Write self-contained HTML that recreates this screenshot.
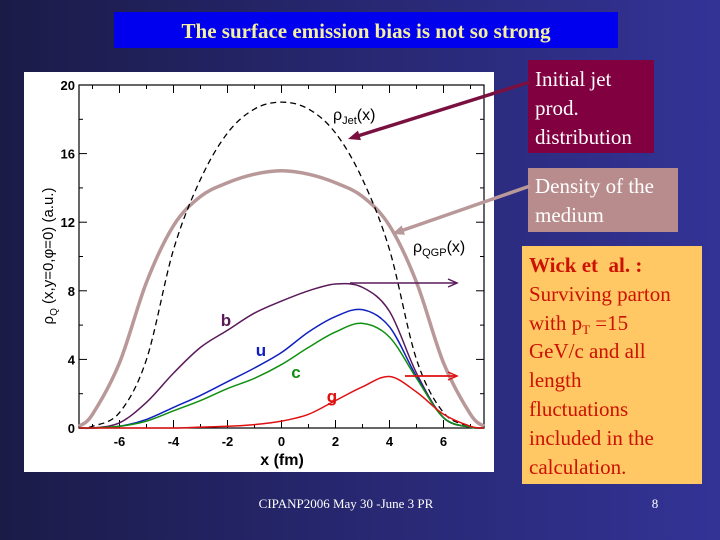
<!DOCTYPE html>
<html><head><meta charset="utf-8"><style>
body{margin:0;width:720px;height:540px;overflow:hidden;background:linear-gradient(90deg,#1b1b48 0%,#26266e 45%,#333396 100%);font-family:"Liberation Serif",serif;position:relative}
.box{position:absolute;box-sizing:border-box}
sub{font-size:13px;line-height:0;vertical-align:-4px}
</style></head><body>
<div class="box" style="left:114px;top:12px;width:504px;height:36px;background:#0000ee;color:#f4f0a0;font-size:21px;font-weight:bold;text-align:center;line-height:38px">The surface emission bias is not so strong</div>
<div class="box" style="left:528px;top:60px;width:126px;height:93px;background:#800040;color:#fff;font-size:21px;line-height:29px;padding:5px 0 0 7px">Initial jet<br>prod.<br>distribution</div>
<div class="box" style="left:528px;top:168px;width:150px;height:64px;background:#b88c8c;color:#fff;font-size:21px;line-height:29px;padding:4px 0 0 7px">Density of the<br>medium</div>
<div class="box" style="left:522px;top:246px;width:180px;height:238px;background:#ffc865;color:#cc1100;font-size:21px;line-height:28.8px;padding:5px 0 0 7px"><b>Wick et&nbsp; al. :</b><br>Surviving parton<br>with p<sub>T</sub> =15<br>GeV/c and all<br>length<br>fluctuations<br>included in the<br>calculation.</div>
<div class="box" style="left:220px;top:496px;width:252px;color:#fff;font-size:13px;text-align:center">CIPANP2006 May 30 -June 3 PR</div>
<div class="box" style="left:645px;top:496px;width:20px;color:#fff;font-size:13px;text-align:center">8</div>
<svg id="chart" width="720" height="540" style="position:absolute;left:0;top:0">
<rect x="24" y="72" width="470" height="400" fill="#fff"/>
<g id="g"></g>
</svg>
<script>
const xs=[-7.5,-7,-6,-5,-4,-3,-2,-1,0,1,2,3,4,5,6,7,7.5];
const jet=[0,0.1,0.9,4,10.4,14.5,17.2,18.6,19,18.6,17.2,14.5,10.4,4,0.9,0.1,0];
const qgp=[0.1,0.8,3.8,8.5,11.8,13.5,14.3,14.8,15,14.8,14.3,13.5,11.8,8.5,3.8,0.8,0.1];
const bq=[0,0,0.3,1.5,3.2,4.7,5.7,6.7,7.4,8.0,8.4,8.2,6.8,3.2,0.6,0.05,0];
const uq=[0,0,0.1,0.5,1.2,1.9,2.7,3.5,4.4,5.6,6.5,6.9,5.9,3.0,0.6,0.05,0];
const cq=[0,0,0.1,0.4,1.0,1.6,2.3,2.9,3.7,4.7,5.6,6.1,5.3,2.9,0.6,0.05,0];
const gq=[0,0,0,0,0,0.05,0.1,0.2,0.4,0.8,1.6,2.4,3.0,2.1,0.8,0.1,0];
const xTicks=[-6,-4,-2,0,2,4,6];
const yTicks=[0,4,8,12,16,20];
const X0=79,X1=484,Y0=428,Y1=85;
const sx=v=>X0+(v+7.5)/15*(X1-X0);
const sy=v=>Y0-v/20*(Y0-Y1);
const g=document.getElementById('g');const NS='http://www.w3.org/2000/svg';
function mk(t,a,p){const e=document.createElementNS(NS,t);for(const k in a)e.setAttribute(k,a[k]);(p||g).appendChild(e);return e;}
function path(ys){const p=xs.map((x,i)=>[sx(x),sy(ys[i])]);let d='M'+p[0][0]+','+p[0][1];
for(let i=0;i<p.length-1;i++){const a=p[Math.max(i-1,0)],b=p[i],c=p[i+1],e=p[Math.min(i+2,p.length-1)];
d+=' C'+(b[0]+(c[0]-a[0])/6)+','+(b[1]+(c[1]-a[1])/6)+' '+(c[0]-(e[0]-b[0])/6)+','+(c[1]-(e[1]-b[1])/6)+' '+c[0]+','+c[1];}return d;}
let e;
e=mk('rect',{x:X0,y:Y1,width:X1-X0,height:Y0-Y1,fill:'none',stroke:'#000','stroke-width':1.2});

xTicks.forEach(t=>{e=mk('text',{x:sx(t),y:Y0+18,'text-anchor':'middle','font-family':'Liberation Sans,sans-serif','font-weight':'bold','font-size':13});e.textContent=t;
});
for(let v=-7;v<=7;v++){mk('line',{x1:sx(v),x2:sx(v),y1:Y0,y2:Y0-(v%2?4:8),stroke:'#000'});mk('line',{x1:sx(v),x2:sx(v),y1:Y1,y2:Y1+(v%2?4:8),stroke:'#000'});}
for(let v=0;v<=20;v+=2){mk('line',{x1:X0,x2:X0+(v%4?4:8),y1:sy(v),y2:sy(v),stroke:'#000'});mk('line',{x1:X1,x2:X1-(v%4?4:8),y1:sy(v),y2:sy(v),stroke:'#000'});}
yTicks.forEach(t=>{e=mk('text',{x:X0-4,y:sy(t)+5,'text-anchor':'end','font-family':'Liberation Sans,sans-serif','font-weight':'bold','font-size':13});e.textContent=t;
});
e=mk('text',{x:282,y:465,'text-anchor':'middle','font-family':'Liberation Sans,sans-serif','font-weight':'bold','font-size':16});e.textContent='x (fm)';

e=mk('text',{x:0,y:0,'text-anchor':'middle','font-family':'Liberation Sans,sans-serif','font-size':15,transform:'translate(53,256) rotate(-90)'});e.innerHTML='ρ<tspan font-size="10" dy="4">Q</tspan><tspan dy="-4"> (x,y=0,φ=0)  (a.u.)</tspan>';

const series=[[qgp,'#b89898',3.5,'','qgp-line'],[jet,'#000',1.3,'6,4','jet-line'],[bq,'#5a1a5a',1.5,'','b-line'],[uq,'#1020c0',1.5,'','u-line'],[cq,'#109010',1.5,'','c-line'],[gq,'#e01010',1.5,'','g-line']];
series.forEach(s=>{e=mk('path',{d:path(s[0]),fill:'none',stroke:s[1],'stroke-width':s[2],'stroke-dasharray':s[3]});
});
const labs=[['b',226,326,'#5a1a5a','b-label'],['u',261,356,'#1020c0','u-label'],['c',296,378,'#109010','c-label'],['g',332,402,'#e01010','g-label']];
labs.forEach(l=>{e=mk('text',{x:l[1],y:l[2],'text-anchor':'middle','font-family':'Liberation Sans,sans-serif','font-weight':'bold','font-size':17,fill:l[3]});e.textContent=l[0];
});
e=mk('text',{x:333,y:120,'font-family':'Liberation Sans,sans-serif','font-size':16});e.innerHTML='ρ<tspan font-size="11" dy="4">Jet</tspan><tspan dy="-4">(x)</tspan>';

e=mk('text',{x:413,y:252,'font-family':'Liberation Sans,sans-serif','font-size':16});e.innerHTML='ρ<tspan font-size="11" dy="4">QGP</tspan><tspan dy="-4">(x)</tspan>';

const svg=document.getElementById('chart');
function arrow(x1,y1,x2,y2,col,w,name){const a=Math.atan2(y2-y1,x2-x1),L=12;
const grp=mk('g',{},svg);
if(w>2){mk('line',{x1,y1,x2:x2-Math.cos(a)*8,y2:y2-Math.sin(a)*8,stroke:col,'stroke-width':w},grp);
mk('polygon',{points:`${x2},${y2} ${x2-L*Math.cos(a)+5*Math.sin(a)},${y2-L*Math.sin(a)-5*Math.cos(a)} ${x2-L*Math.cos(a)-5*Math.sin(a)},${y2-L*Math.sin(a)+5*Math.cos(a)}`,fill:col},grp);}
else{mk('line',{x1,y1,x2,y2,stroke:col,'stroke-width':w},grp);
mk('polyline',{points:`${x2-9*Math.cos(a)+4*Math.sin(a)},${y2-9*Math.sin(a)-4*Math.cos(a)} ${x2},${y2} ${x2-9*Math.cos(a)-4*Math.sin(a)},${y2-9*Math.sin(a)+4*Math.cos(a)}`,fill:'none',stroke:col,'stroke-width':1.5},grp);}}
arrow(530,82,348,139,'#7a1040',3.5,'jet-arrow');
arrow(530,186,392,234,'#b89898',3.5,'qgp-arrow');
arrow(350,283,457,283,'#5a1a5a',1.5,'b-peak-arrow');
arrow(405,376,457,376,'#e01010',1.8,'g-peak-arrow');
</script>
</body></html>
